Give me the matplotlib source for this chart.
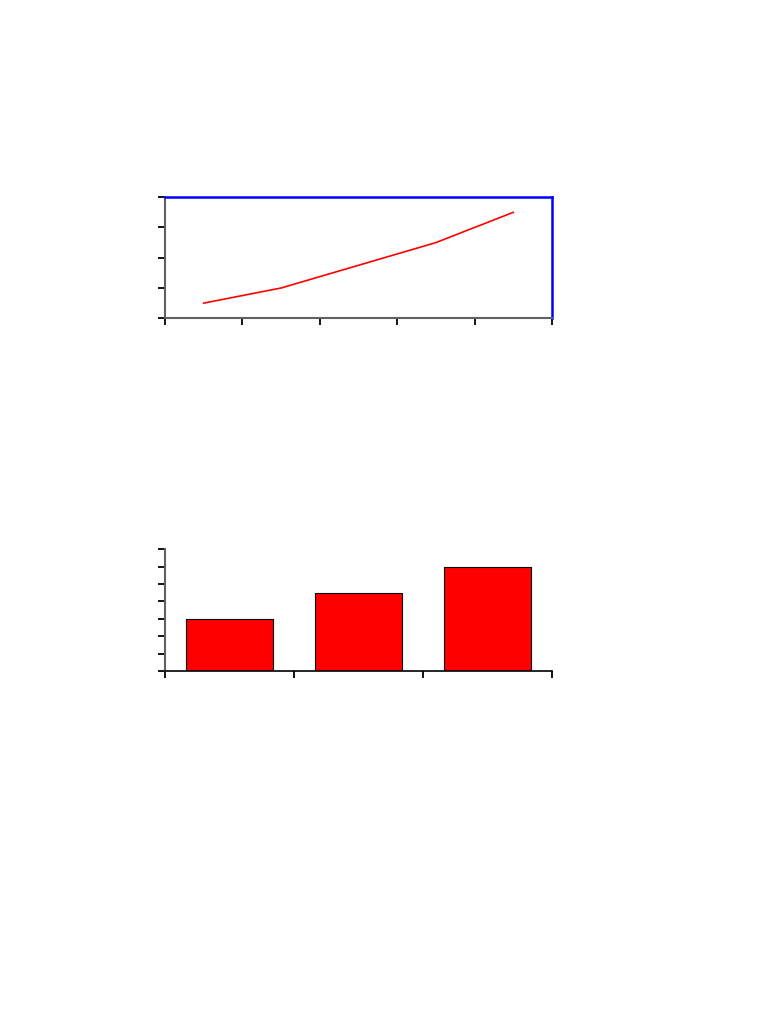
import numpy as np
import matplotlib
matplotlib.use("Agg")
from matplotlib import pyplot as plt

# line chart data (5 categories)
line_x = [0, 1, 2, 3, 4]
line_y = [0.5, 1.0, 1.75, 2.5, 3.5]

# bar chart data (3 categories)
bar_x = [0, 1, 2]
bar_y = [3, 4.5, 6]

fig = plt.figure(figsize=(7.68, 10.24), dpi=100)

# top: line chart with blue frame
ax1 = fig.add_axes([0.2148, 0.6892, 0.5039, 0.1182])
ax1.plot(line_x, line_y, color="#ff0000", lw=1.2)
ax1.set_xlim(-0.5, 4.5)
ax1.set_ylim(0, 4)
ax1.set_xticks(np.arange(-0.5, 5, 1))
ax1.set_yticks(np.arange(0, 5, 1))
ax1.set_xticklabels([])
ax1.set_yticklabels([])
for s in ["top", "right"]:
    ax1.spines[s].set_color("#0000ff")
    ax1.spines[s].set_linewidth(1.8)
for s in ["left", "bottom"]:
    ax1.spines[s].set_color("#606060")
    ax1.spines[s].set_linewidth(1.5)
ax1.tick_params(direction="out", length=5, width=1.3, color="black")

# bottom: bar chart
ax2 = fig.add_axes([0.2148, 0.3447, 0.5039, 0.1189])
ax2.bar(bar_x, bar_y, width=0.67, color="#ff0000", edgecolor="black", lw=0.8)
ax2.set_xlim(-0.5, 2.5)
ax2.set_ylim(0, 7)
ax2.set_xticks(np.arange(-0.5, 3, 1))
ax2.set_yticks(np.arange(0, 8, 1))
ax2.set_xticklabels([])
ax2.set_yticklabels([])
ax2.spines["top"].set_visible(False)
ax2.spines["right"].set_visible(False)
ax2.spines["left"].set_color("#606060")
ax2.spines["left"].set_linewidth(1.5)
ax2.spines["bottom"].set_color("black")
ax2.spines["bottom"].set_linewidth(1.2)
ax2.tick_params(direction="out", length=5, width=1.3, color="black")

fig.savefig("out.png", dpi=100)
